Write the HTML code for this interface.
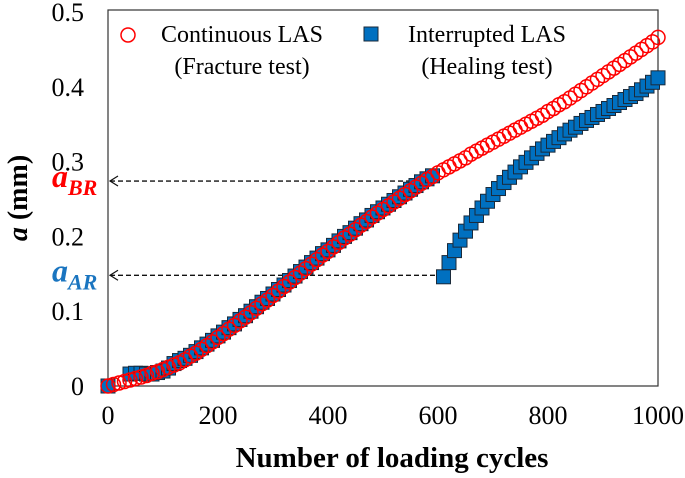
<!DOCTYPE html>
<html><head><meta charset="utf-8"><style>
body{margin:0;background:#fff;}
svg text{font-family:"Liberation Serif","Times New Roman",serif;}
</style></head><body>
<svg id="chart" width="685" height="473">
<rect x="108" y="10" width="550" height="376" fill="none" stroke="#333" stroke-width="1.2"/>
<g id="yt"></g>
<g id="xt"></g>
<text x="27" y="198" transform="rotate(-90 27 198)" text-anchor="middle" font-size="28" font-weight="bold"><tspan font-style="italic">a</tspan> (mm)</text>
<text x="392" y="467" text-anchor="middle" font-size="29" font-weight="bold">Number of loading cycles</text>
<g id="ann"></g>
<g id="blue"></g>
<g id="red"></g>
<g>
<circle cx="128" cy="35" r="7" fill="none" stroke="#f00" stroke-width="1.5"/>
<text x="242" y="42" text-anchor="middle" font-size="24">Continuous LAS</text>
<text x="242" y="74" text-anchor="middle" font-size="24">(Fracture test)</text>
<rect x="364" y="27" width="14" height="14" fill="#0070c0" stroke="#1a2a3a"/>
<text x="487" y="42" text-anchor="middle" font-size="24">Interrupted LAS</text>
<text x="487" y="74" text-anchor="middle" font-size="24">(Healing test)</text>
</g>
</svg>
<script>
const yTicks=[0,0.1,0.2,0.3,0.4,0.5];
const yTickLabels=["0","0.1","0.2","0.3","0.4","0.5"];
const xTicks=[0,200,400,600,800,1000];
const xTickLabels=["0","200","400","600","800","1000"];
const redX=[0,10,20,30,40,50,60,70,80,90,100,110,120,130,140,150,160,170,180,190,200,210,220,230,240,250,260,270,280,290,300,310,320,330,340,350,360,370,380,390,400,410,420,430,440,450,460,470,480,490,500,510,520,530,540,550,560,570,580,590,600,610,620,630,640,650,660,670,680,690,700,710,720,730,740,750,760,770,780,790,800,810,820,830,840,850,860,870,880,890,900,910,920,930,940,950,960,970,980,990,1000];
const redY=[0,0.002,0.004,0.006,0.008,0.010,0.012,0.014,0.017,0.019,0.022,0.025,0.028,0.031,0.035,0.040,0.044,0.049,0.054,0.059,0.065,0.070,0.076,0.081,0.087,0.092,0.098,0.104,0.110,0.115,0.121,0.127,0.133,0.139,0.145,0.151,0.157,0.163,0.169,0.175,0.180,0.186,0.192,0.198,0.203,0.209,0.215,0.220,0.226,0.231,0.236,0.241,0.246,0.251,0.256,0.261,0.266,0.271,0.276,0.280,0.285,0.289,0.293,0.297,0.301,0.305,0.310,0.314,0.318,0.322,0.326,0.330,0.334,0.338,0.342,0.346,0.350,0.354,0.358,0.362,0.367,0.371,0.376,0.380,0.385,0.390,0.395,0.400,0.405,0.410,0.415,0.420,0.425,0.430,0.435,0.440,0.445,0.450,0.455,0.460,0.466];
const blueX=[0,40,50,60,70,80,90,100,110,120,130,140,150,160,170,180,190,200,210,220,230,240,250,260,270,280,290,300,310,320,330,340,350,360,370,380,390,400,410,420,430,440,450,460,470,480,490,500,510,520,530,540,550,560,570,580,590,610,620,630,640,650,660,670,680,690,700,710,720,730,740,750,760,770,780,790,800,810,820,830,840,850,860,870,880,890,900,910,920,930,940,950,960,970,980,990,1000];
const blueY=[0,0.016,0.017,0.017,0.016,0.016,0.018,0.020,0.024,0.030,0.034,0.037,0.041,0.046,0.051,0.056,0.061,0.067,0.072,0.078,0.083,0.089,0.094,0.100,0.106,0.112,0.117,0.123,0.129,0.135,0.141,0.147,0.153,0.159,0.165,0.171,0.177,0.182,0.188,0.194,0.200,0.205,0.211,0.217,0.222,0.228,0.233,0.238,0.243,0.248,0.253,0.258,0.263,0.268,0.273,0.277,0.281,0.146,0.165,0.181,0.195,0.207,0.218,0.228,0.238,0.247,0.256,0.264,0.272,0.279,0.286,0.293,0.299,0.305,0.311,0.317,0.322,0.327,0.332,0.337,0.342,0.346,0.351,0.355,0.359,0.363,0.367,0.371,0.375,0.379,0.383,0.387,0.391,0.396,0.401,0.406,0.412];
const aBR=0.274, aAR=0.148, aBRcyc=590, aARcyc=605;
const NS="http://www.w3.org/2000/svg";
function sx(v){return 108+v/1000*550;}
function sy(v){return 386-v/0.5*374;}
function mk(tag,attrs,parent){const e=document.createElementNS(NS,tag);for(const k in attrs)e.setAttribute(k,attrs[k]);parent.appendChild(e);return e;}
const yt=document.getElementById('yt'),xt=document.getElementById('xt');
yTicks.forEach((v,i)=>{const t=mk('text',{x:84,y:sy(v)+9,'text-anchor':'end','font-size':'26'},yt);t.textContent=yTickLabels[i];

});
xTicks.forEach((v,i)=>{const t=mk('text',{x:sx(v),y:424,'text-anchor':'middle','font-size':'26'},xt);t.textContent=xTickLabels[i];

});
const ann=document.getElementById('ann');
[[aBR,aBRcyc],[aAR,aARcyc]].forEach(([v,c],i)=>{
const y=sy(v);
const l=mk('line',{x1:sx(0)+2,y1:y,x2:sx(c),y2:y,stroke:'#111','stroke-width':1.3,'stroke-dasharray':'5,3'},ann);


const p=mk('path',{d:`M${sx(0)+10},${y-5} L${sx(0)+2},${y} L${sx(0)+10},${y+5}`,fill:'none',stroke:'#111','stroke-width':1.2},ann);


const t=mk('text',{x:52,y:y+6,'font-size':'32','font-weight':'bold','font-style':'italic',fill:i?'#1a75c0':'#f00'},ann);
t.innerHTML='a<tspan font-size="22" dy="8">'+(i?'AR':'BR')+'</tspan>';


});
const bg=document.getElementById('blue');
blueX.forEach((x,i)=>{const r=mk('rect',{x:sx(x)-7,y:sy(blueY[i])-7,width:14,height:14,fill:'#0070c0',stroke:'#1a2a3a','stroke-width':1},bg);

});
const rg=document.getElementById('red');
redX.forEach((x,i)=>{const c=mk('circle',{cx:sx(x),cy:sy(redY[i]),r:7,fill:'none',stroke:'#f00','stroke-width':1.5},rg);

});
</script>
</body></html>
